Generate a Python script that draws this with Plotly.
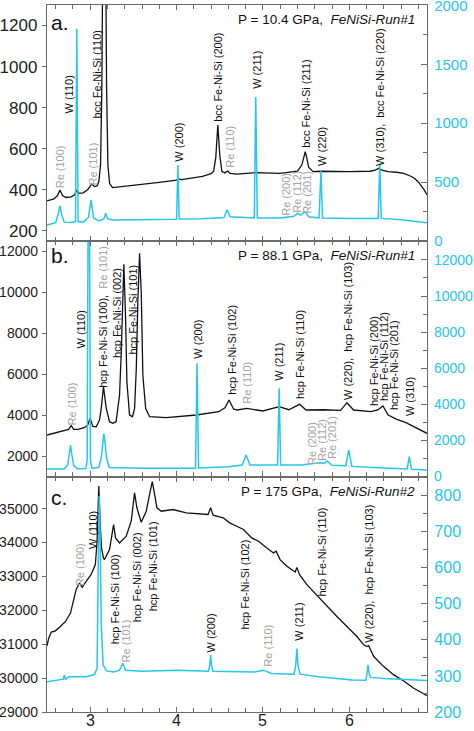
import plotly.graph_objects as go

X_RANGE = [2.5, 6.9]
X_TICKS = [3, 4, 5, 6]
A_RIGHT_TICKS = [0, 500, 1000, 1500, 2000]
CYAN = "#25C6F0"
GREY = "#A3A3A3"
AXC = "#6a6a6a"

# ---------------- Panel a : P = 10.4 GPa ----------------
a_black_x = [2.50, 2.58, 2.62, 2.65, 2.68, 2.72, 2.78, 2.82, 2.845, 2.87, 2.92, 2.97, 3.02, 3.05, 3.08,
             3.10, 3.12, 3.135, 3.145, 3.155, 3.17, 3.18, 3.19, 3.205, 3.225, 3.26, 3.50, 3.80, 4.00, 4.016,
             4.06, 4.30, 4.40, 4.43, 4.455, 4.478, 4.50, 4.525, 4.56, 4.59, 4.62, 4.70, 4.92, 5.20, 5.40,
             5.45, 5.475, 5.49, 5.505, 5.53, 5.58, 5.672, 6.00, 6.24, 6.30, 6.34, 6.38, 6.45, 6.55, 6.63,
             6.70, 6.75, 6.80, 6.84, 6.87, 6.90]
a_black_y = [345, 355, 370, 398, 372, 362, 365, 375, 398, 382, 385, 400, 428, 415, 418,
             440, 520, 900, 1500, 3000, 3000, 1500, 900, 520, 430, 410, 420, 436, 447, 452,
             449, 465, 478, 490, 560, 715, 570, 490, 482, 491, 480, 476, 483, 480, 490,
             520, 560, 585, 560, 510, 488, 490, 488, 490, 495, 504, 495, 488, 485, 480,
             468, 457, 438, 415, 398, 374]
a_cyan_x = [2.50, 2.60, 2.63, 2.65, 2.67, 2.70, 2.78, 2.83, 2.845, 2.86, 2.92, 2.98, 3.01, 3.04, 3.10,
            3.16, 3.18, 3.20, 3.26, 3.60, 4.00, 4.016, 4.03, 4.30, 4.55, 4.586, 4.62, 4.90, 4.917, 4.935,
            5.20, 5.36, 5.40, 5.44, 5.49, 5.53, 5.65, 5.672, 5.69, 6.00, 6.335, 6.353, 6.37, 6.60, 6.90]
a_cyan_y = [136, 155, 230, 299, 220, 160, 157, 165, 1802, 165, 160, 200, 347, 195, 170,
            190, 235, 190, 178, 180, 185, 644, 186, 188, 200, 268, 205, 195, 1223, 195,
            195, 210, 235, 220, 249, 205, 195, 596, 195, 192, 192, 658, 192, 180, 155]

# ---------------- Panel b : P = 88.1 GPa ----------------
b_black_x = [2.50, 2.60, 2.70, 2.75, 2.78, 2.81, 2.86, 2.93, 2.97, 3.00, 3.03, 3.07, 3.108, 3.128, 3.154,
             3.186, 3.224, 3.262, 3.30, 3.34, 3.36, 3.378, 3.39, 3.41, 3.425, 3.456, 3.49, 3.514, 3.534,
             3.552, 3.572, 3.592, 3.61, 3.642, 3.688, 3.88, 4.23, 4.49, 4.56, 4.608, 4.66, 4.70, 4.813,
             5.00, 5.188, 5.30, 5.424, 5.50, 5.70, 5.90, 5.973, 6.05, 6.25, 6.33, 6.39, 6.45, 6.55,
             6.65, 6.73, 6.80, 6.90]
b_black_y = [3026, 3150, 3250, 3300, 3481, 3300, 3300, 3383, 3500, 3840, 3450, 3431, 3759, 4330, 5385,
             4330, 3676, 3597, 3676, 4980, 7094, 10350, 11361, 8725, 5630, 4003, 3921, 4330, 6283,
             9535, 11898, 9862, 5956, 4330, 3921, 3871, 4003, 4164, 4350, 4735, 4300, 4247, 4330,
             4200, 4408, 4260, 4525, 4247, 4260, 4230, 4604, 4247, 4164, 4250, 4442, 4003, 3792,
             3646, 3481, 3305, 3109]
b_cyan_x = [2.50, 2.70, 2.74, 2.76, 2.772, 2.785, 2.81, 2.85, 2.95, 2.965, 2.975, 2.979, 2.989, 2.993,
            3.003, 3.02, 3.10, 3.13, 3.145, 3.158, 3.172, 3.19, 3.22, 3.60, 4.22, 4.237, 4.255, 4.60,
            4.76, 4.78, 4.805, 4.83, 4.85, 5.17, 5.188, 5.205, 5.45, 5.58, 5.674, 5.71, 5.744, 5.80,
            5.96, 5.993, 6.03, 6.40, 6.67, 6.696, 6.72, 6.90]
b_cyan_y = [415, 420, 650, 1300, 1745, 1300, 600, 430, 440, 900, 9000, 18000, 18000, 9000,
            900, 460, 500, 1100, 1900, 2393, 1900, 1000, 500, 460, 460, 6271, 470, 543,
            637, 900, 1191, 900, 637, 640, 4886, 640, 640, 720, 766, 720, 859, 620,
            600, 1468, 560, 471, 420, 1097, 400, 360]

# ---------------- Panel c : P = 175 GPa ----------------
c_black_x = [2.50, 2.52, 2.55, 2.597, 2.655, 2.714, 2.772, 2.837, 2.876, 2.907, 2.953, 3.01, 3.06, 3.08,
             3.092, 3.10, 3.116, 3.131, 3.154, 3.166, 3.224, 3.255, 3.271, 3.294, 3.34, 3.417, 3.475,
             3.514, 3.541, 3.591, 3.649, 3.688, 3.719, 3.746, 3.773, 3.823, 3.958, 4.113, 4.268, 4.365,
             4.395, 4.423, 4.539, 4.616, 4.697, 4.775, 4.871, 4.949, 5.045, 5.123, 5.153, 5.199, 5.277,
             5.374, 5.393, 5.424, 5.509, 5.625, 5.741, 5.857, 5.973, 6.089, 6.167, 6.205, 6.224, 6.283,
             6.399, 6.515, 6.631, 6.747, 6.90]
c_black_y = [30950, 31180, 31358, 31396, 31524, 31672, 31920, 32609, 32808, 32678, 32855, 33053, 33349, 34038,
             35026, 35666, 34533, 33843, 33547, 33500, 33793, 34287, 34533, 34139, 33990, 34186, 34630,
             35470, 35026, 34600, 34926, 35420, 35796, 35420, 35026, 34926, 34976, 34879, 34849, 34828,
             35026, 34808, 34730, 34583, 34482, 34385, 34139, 34038, 33843, 33695, 33743, 33497, 33300,
             33133, 33269, 33053, 32757, 32442, 32115, 31820, 31524, 31228, 30982, 30932, 30960, 30636,
             30340, 30095, 29917, 29700, 29482]
c_cyan_x = [2.50, 2.65, 2.69, 2.70, 2.715, 2.76, 2.95, 3.05, 3.08, 3.092, 3.10, 3.105, 3.116, 3.128, 3.15,
            3.19, 3.27, 3.34, 3.378, 3.41, 3.60, 4.00, 4.37, 4.385, 4.395, 4.405, 4.42, 4.697, 4.90,
            5.007, 5.10, 5.36, 5.38, 5.393, 5.405, 5.43, 5.65, 6.03, 6.19, 6.205, 6.217, 6.23, 6.25,
            6.40, 6.60, 6.90]
c_cyan_y = [284, 289, 291, 302, 291, 298, 298, 304, 321, 579, 765, 799, 672, 441, 330,
            314, 311, 316, 335, 316, 313, 316, 313, 330, 358, 330, 313, 313, 311,
            316, 307, 305, 330, 376, 330, 305, 298, 289, 288, 305, 331, 305, 296,
            293, 290, 287]

# ---------------- Peak labels (text, x, y on left axis, grey?) ----------------
a_labels = [
    ("Re (100)", 2.655, 511, True), ("W (110)", 2.760, 866, False), ("Re (101)", 3.038, 525, True),
    ("bcc Fe-Ni-Si (110)", 3.073, 964, False), ("W (200)", 4.024, 632, False),
    ("bcc Fe-Ni-Si (200)", 4.477, 949, False), ("Re (110)", 4.616, 608, True),
    ("W (211)", 4.929, 983, False), ("bcc Fe-Ni-Si (211)", 5.497, 818, False),
    ("W (220)", 5.683, 613, False), ("Re (200)", 5.265, 379, True), ("Re (112)", 5.393, 389, True),
    ("Re (201)", 5.509, 389, True), ("W (310),  bcc Fe-Ni-Si (220)", 6.356, 852, False),
]
b_labels = [
    ("Re (100)", 2.795, 4540, True), ("W (110)", 2.899, 8202, False),
    ("hcp Fe-Ni-Si (100),  <span style='color:%s'>Re (101)</span>" % GREY, 3.146, 8788, False),
    ("hcp Fe-Ni-Si (002)", 3.309, 8983, False), ("hcp Fe-Ni-Si (101)", 3.491, 9130, False),
    ("W (200)", 4.245, 7714, False), ("hcp Fe-Ni-Si (102)", 4.639, 7177, False),
    ("Re (110)", 4.813, 5565, True), ("W (211)", 5.184, 6591, False),
    ("hcp Fe-Ni-Si (110)", 5.428, 6981, False), ("W (220),  hcp Fe-Ni-Si (103)", 5.985, 8104, False),
    ("hcp Fe-Ni-Si (200)", 6.287, 6640, False), ("hcp Fe-Ni-Si (112)", 6.403, 6835, False),
    ("hcp Fe-Ni-Si (201)", 6.519, 6444, False), ("W (310)", 6.704, 4882, False),
    ("Re (200)", 5.568, 2636, True), ("Re (112)", 5.684, 2782, True), ("Re (201)", 5.800, 2880, True),
]
c_labels = [
    ("Re (100)", 2.876, 33349, True), ("W (110)", 3.027, 34355, False),
    ("hcp Fe-Ni-Si (100)", 3.282, 32314, False), ("Re (101)", 3.410, 31101, True),
    ("hcp Fe-Ni-Si (002)", 3.537, 32964, False), ("hcp Fe-Ni-Si (101)", 3.723, 33290, False),
    ("W (200)", 4.396, 31337, False), ("hcp Fe-Ni-Si (102)", 4.791, 32757, False),
    ("Re (110)", 5.057, 30953, True), ("W (211)", 5.417, 31663, False),
    ("hcp Fe-Ni-Si (110)", 5.684, 33734, False), ("W (220),  hcp Fe-Ni-Si (103)", 6.23, 33083, False),
]
panel_letters = ["a.", "b.", "c."]
headers = ["P = 10.4 GPa,  <i>FeNiSi-Run#1</i>", "P = 88.1 GPa,  <i>FeNiSi-Run#1</i>",
           "P = 175 GPa,  <i>FeNiSi-Run#2</i>"]

fig = go.Figure()

fig.add_trace(go.Scatter(x=a_black_x, y=a_black_y, xaxis="x3", yaxis="y5", mode="lines",
                         line=dict(color="#111111", width=1.3), showlegend=False))
fig.add_trace(go.Scatter(x=a_cyan_x, y=a_cyan_y, xaxis="x3", yaxis="y6", mode="lines",
                         line=dict(color=CYAN, width=1.5), showlegend=False))
fig.add_trace(go.Scatter(x=b_black_x, y=b_black_y, xaxis="x2", yaxis="y3", mode="lines",
                         line=dict(color="#111111", width=1.3), showlegend=False))
fig.add_trace(go.Scatter(x=b_cyan_x, y=b_cyan_y, xaxis="x2", yaxis="y4", mode="lines",
                         line=dict(color=CYAN, width=1.5), showlegend=False))
fig.add_trace(go.Scatter(x=c_black_x, y=c_black_y, xaxis="x", yaxis="y", mode="lines",
                         line=dict(color="#111111", width=1.3), showlegend=False))
fig.add_trace(go.Scatter(x=c_cyan_x, y=c_cyan_y, xaxis="x", yaxis="y2", mode="lines",
                         line=dict(color=CYAN, width=1.5), showlegend=False))

TF = "Liberation Sans, Arial, sans-serif"
H = 707.0
dc = [0, 235.5 / H]
db = [235.5 / H, 471.0 / H]
da = [471.0 / H, 1.0]


def xax(anchor):
    return dict(range=X_RANGE, domain=[0, 1], anchor=anchor, showline=True, linecolor=AXC, linewidth=1.3,
                mirror="ticks", ticks="inside", ticklen=5, tickcolor=AXC, dtick=1, tick0=0,
                showgrid=False, zeroline=False, showticklabels=False, automargin=False,
                minor=dict(dtick=0.2, ticks="inside", ticklen=4, tickcolor=AXC, showgrid=False))


def yleft(dom, rng, dtick, anchor, size):
    return dict(domain=dom, range=rng, anchor=anchor, dtick=dtick, showline=True, linecolor=AXC,
                linewidth=1.3, ticks="outside", ticklen=4, tickcolor=AXC, showgrid=False, zeroline=False,
                automargin=False, ticklabeloverflow="allow",
                tickformat="d", tickfont=dict(family=TF, size=size, color="#222"), ticklabelstandoff=1)


def yright(over, rng, dtick, mdt, anchor, size):
    return dict(overlaying=over, side="right", range=rng, anchor=anchor, dtick=dtick, showline=True,
                linecolor=AXC, linewidth=1.3, ticks="inside", ticklen=6, tickcolor=AXC,
                showgrid=False, zeroline=False, tickformat="d", automargin=False,
                ticklabeloverflow="allow",
                tickfont=dict(family=TF, size=size, color=CYAN),
                minor=dict(dtick=mdt, ticks="inside", ticklen=4, tickcolor=AXC, showgrid=False),
                ticklabelstandoff=3)


ya_right = yright("y5", [0, 2003], 500, 250, "x3", 15)
ya_right.update(tickmode="array", tickvals=A_RIGHT_TICKS, ticktext=[str(v) for v in A_RIGHT_TICKS])

fig.update_layout(
    width=474, height=731, margin=dict(l=47, r=47, t=5, b=19, autoexpand=False),
    paper_bgcolor="white", plot_bgcolor="white",
    xaxis=xax("y"), xaxis2=xax("y3"), xaxis3=xax("y5"),
    yaxis=yleft(dc, [29000, 35950], 1000, "x", 14),
    yaxis2=yright("y", [200, 853], 100, 50, "x", 16),
    yaxis3=yleft(db, [1000, 12500], 2000, "x2", 14),
    yaxis4=yright("y3", [0, 13050], 2000, 1000, "x2", 14),
    yaxis5=yleft(da, [150, 1300], 200, "x3", 17),
    yaxis6=ya_right,
)

LF = "Liberation Sans, Arial, sans-serif"
anns = []
for labels, xr, yr in [(a_labels, "x3", "y5"), (b_labels, "x2", "y3"), (c_labels, "x", "y")]:
    for text, lx, ly, grey in labels:
        anns.append(dict(text=text, x=lx, y=ly, xref=xr, yref=yr, showarrow=False, textangle=-90,
                         xanchor="center", yanchor="middle",
                         font=dict(family=LF, size=11, color=GREY if grey else "#111")))

for letter, xr, yr, yv in zip(panel_letters, ["x3 domain", "x2 domain", "x domain"],
                              ["y5 domain", "y3 domain", "y domain"], [0.925, 0.937, 0.91]):
    anns.append(dict(text=letter, x=0.005, y=yv, xref=xr, yref=yr, showarrow=False,
                     xanchor="left", yanchor="middle", font=dict(family=TF, size=21, color="#111")))

for head, xr, yr, yv in zip(headers, ["x3 domain", "x2 domain", "x domain"],
                            ["y5 domain", "y3 domain", "y domain"], [0.94, 0.94, 0.935]):
    anns.append(dict(text=head, x=0.974, y=yv, xref=xr, yref=yr, showarrow=False,
                     xanchor="right", yanchor="middle", font=dict(family=TF, size=13.5, color="#111")))

# bottom x tick labels (as text placed under the shared x axis)
for v in X_TICKS:
    anns.append(dict(text=str(v), x=v, y=0, xref="x", yref="paper", showarrow=False,
                     xanchor="center", yanchor="top", yshift=1, borderpad=0,
                     font=dict(family=TF, size=16, color="#222")))

fig.update_layout(annotations=anns)
fig.write_html("out.html")
